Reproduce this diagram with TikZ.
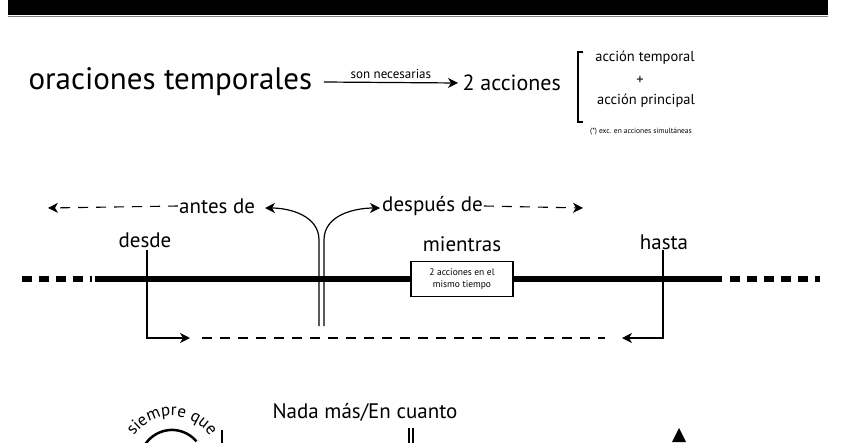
\documentclass[tikz,border=0pt]{standalone}
\usepackage{fontspec}
\setmainfont{PT Sans}
\usetikzlibrary{arrows.meta,decorations.text}
\begin{document}
\begin{tikzpicture}[x=1pt,y=-1pt,
  tip/.style={-{Stealth[width=10pt,length=10pt,inset=3pt]}},
  dsh/.style={dashed,dash pattern=on 10pt off 8pt,line width=1.1pt},
  ln/.style={line width=1.2pt}]
\useasboundingbox (0,0) rectangle (843,442);
\fill (8,0) rectangle (828,15);
\draw[gray,line width=0.8pt] (8,16) -- (828,16);
% top row
\node[font=\fontsize{31}{34}\selectfont,anchor=west] (ot) at (25,82) {oraciones temporales};
\node[font=\fontsize{22}{24}\selectfont,anchor=west] (dos) at (459,83) {2 acciones};
\draw[ln,tip] (ot.east)++(8,0) coordinate (a0) -- ([xshift=-1pt]dos.west) node[midway,above,font=\fontsize{13}{15}\selectfont] {son necesarias};
\draw[line width=1.5pt] (583,52) -- (578,52) -- (578,122) -- (583,122);
\node[font=\fontsize{14.5}{16}\selectfont] (at) at (645,58) {acción temporal};
\node[font=\fontsize{14.5}{16}\selectfont] (pl) at (640,80) {+};
\node[font=\fontsize{14.5}{16}\selectfont] (ap) at (646,101) {acción principal};
\node[font=\fontsize{7.5}{8}\selectfont] (exc) at (641,132) {(*) exc. en acciones simultáneas};
% timeline
\node[font=\fontsize{21}{23}\selectfont,anchor=west,inner sep=1pt] (antes) at (178,206) {antes de};
\node[font=\fontsize{21}{23}\selectfont,anchor=west,inner sep=1pt] (despues) at (381,206) {después de};
\coordinate (L) at (48,208);
\coordinate (R) at (583,208);
\draw[dsh,tip] (antes.west) -- (L);
\draw[dsh,tip] (despues.east) -- (R);
\draw[ln,tip] (319,326) -- (319,240) to[out=90,in=0] (265,208);
\draw[ln,tip] (324,326) -- (324,240) to[out=90,in=180] (380,208);
\node[font=\fontsize{21}{23}\selectfont] (desde) at (145,240) {desde};
\node[font=\fontsize{21}{23}\selectfont] (hasta) at (664,242) {hasta};
\node[font=\fontsize{21}{23}\selectfont] (mientras) at (462,244) {mientras};
\draw[line width=6pt] (95,279) -- (722,279);
\draw[line width=6pt,dash pattern=on 10pt off 7pt] (22,279) -- (92,279);
\draw[line width=6pt,dash pattern=on 10pt off 7pt] (730,279) -- (820,279);
\node[draw,line width=1.2pt,fill=white,minimum width=102pt,minimum height=35pt,align=center,font=\fontsize{9.5}{12}\selectfont] (box) at (462,279) {2 acciones en el\\mismo tiempo};
\coordinate (d1) at (147,250); \coordinate (d2) at (147,338);
\coordinate (h1) at (663,250); \coordinate (h2) at (663,338);
\draw[ln,tip] (d1) -- (d2) -- (190,338);
\draw[ln,tip] (h1) -- (h2) -- (622,338);
\draw[dsh] (202,338) -- (605,338);
% bottom
\node[font=\fontsize{21}{23}\selectfont] (nada) at (365,412) {Nada más/En cuanto};
\draw[ln] (409,428) -- (409,443) (413,428) -- (413,443);
\begin{scope}[y=1pt]
\draw[line width=2.5pt] (141.9,-451) arc (160:40:32);
\path[decorate,decoration={text along path,text={|\fontsize{17}{19}\selectfont|siempre que},text align=center}] (126.7,-454) arc (170:10:46);
\end{scope}
\draw[line width=1.5pt] (222,430) -- (222,443);
\fill (679,428) -- (686,442) -- (672,442) -- cycle;
\end{tikzpicture}
\end{document}
